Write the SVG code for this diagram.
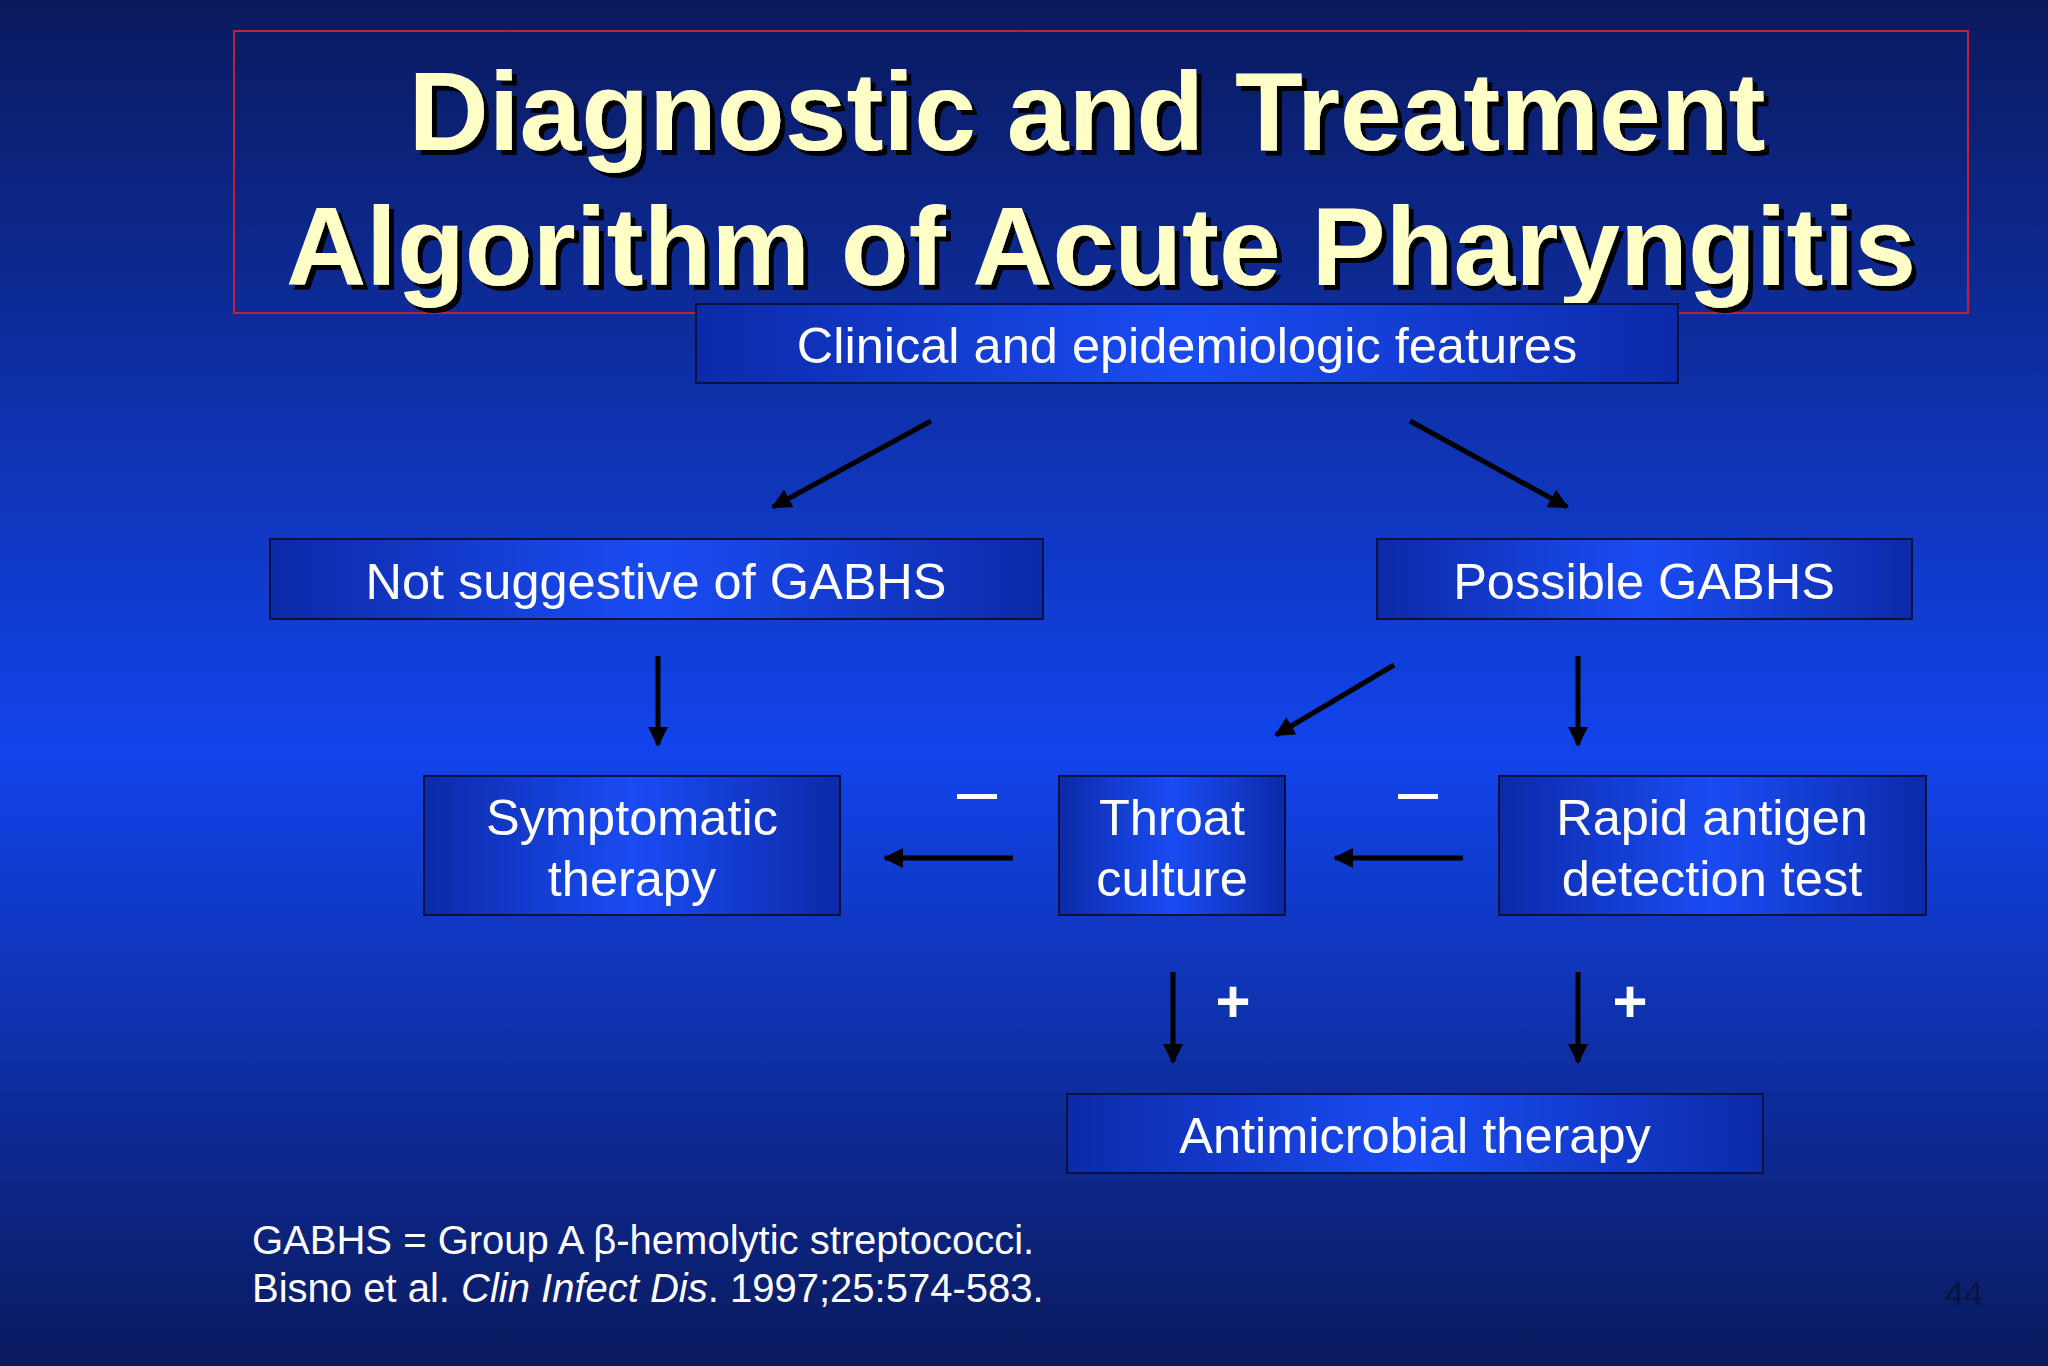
<svg xmlns="http://www.w3.org/2000/svg" width="2048" height="1366" viewBox="0 0 2048 1366">
<defs>
<linearGradient id="bg" x1="0" y1="0" x2="0" y2="1">
<stop offset="0" stop-color="#0a1a5e"/><stop offset="0.55" stop-color="#1244ec"/><stop offset="1" stop-color="#0a1a5e"/>
</linearGradient>
<linearGradient id="bx" x1="0" y1="0" x2="1" y2="0">
<stop offset="0" stop-color="#0c2aa8"/><stop offset="0.5" stop-color="#1a4cf4"/><stop offset="1" stop-color="#0c2aa8"/>
</linearGradient>
<filter id="sh" x="-5%" y="-20%" width="110%" height="140%"><feDropShadow dx="5" dy="5" stdDeviation="0" flood-color="#000"/></filter>
<marker id="ah" viewBox="0 0 10 10" refX="9" refY="5" markerWidth="4" markerHeight="4" orient="auto"><path d="M0,0L10,5L0,10z" fill="#000"/></marker>
</defs>
<style>
.b{fill:url(#bx);stroke:#0a1040;stroke-width:2}
.t{font-family:"Liberation Sans",Arial,sans-serif;fill:#fff;font-size:50.5px;text-anchor:middle}
.c{stroke:#000;stroke-width:5;fill:none;marker-end:url(#ah)}
.ti{font-family:"Liberation Sans",Arial,sans-serif;font-weight:bold;font-size:111px;fill:#ffffc8;text-anchor:middle}
.f{font-family:"Liberation Sans",Arial,sans-serif;fill:#fff;font-size:40px}
.s{font-family:"Liberation Sans",Arial,sans-serif;fill:#fff;font-size:60px;text-anchor:middle}
</style>
<rect width="2048" height="1366" fill="url(#bg)"/>
<rect x="234" y="31" width="1734" height="282" fill="none" stroke="#c0203a" stroke-width="2"/>
<g id="title" filter="url(#sh)">
<text class="ti" x="1087" y="150">Diagnostic and Treatment</text>
<text class="ti" x="1101" y="285">Algorithm of Acute Pharyngitis</text>
</g>
<g id="n1"><rect class="b" x="696" y="304" width="982" height="79"/><text class="t" x="1187" y="363">Clinical and epidemiologic features</text></g>
<g id="n2"><rect class="b" x="270" y="539" width="773" height="80"/><text class="t" x="656" y="599">Not suggestive of GABHS</text></g>
<g id="n3"><rect class="b" x="1377" y="539" width="535" height="80"/><text class="t" x="1644" y="599">Possible GABHS</text></g>
<g id="n4"><rect class="b" x="424" y="776" width="416" height="139"/><text class="t" x="632" y="835">Symptomatic</text><text class="t" x="632" y="896">therapy</text></g>
<g id="n5"><rect class="b" x="1059" y="776" width="226" height="139"/><text class="t" x="1172" y="835">Throat</text><text class="t" x="1172" y="896">culture</text></g>
<g id="n6"><rect class="b" x="1499" y="776" width="427" height="139"/><text class="t" x="1712" y="835">Rapid antigen</text><text class="t" x="1712" y="896">detection test</text></g>
<g id="n7"><rect class="b" x="1067" y="1094" width="696" height="79"/><text class="t" x="1415" y="1153">Antimicrobial therapy</text></g>
<g id="connectors">
<line class="c" x1="931" y1="421" x2="773" y2="507"/>
<line class="c" x1="1410" y1="421" x2="1567" y2="507"/>
<line class="c" x1="658" y1="656" x2="658" y2="745"/>
<line class="c" x1="1394" y1="665" x2="1276" y2="735"/>
<line class="c" x1="1578" y1="656" x2="1578" y2="745"/>
<line class="c" x1="1013" y1="858" x2="885" y2="858"/>
<line class="c" x1="1463" y1="858" x2="1335" y2="858"/>
<line class="c" x1="1173" y1="972" x2="1173" y2="1062"/>
<line class="c" x1="1578" y1="972" x2="1578" y2="1062"/>
<rect x="957" y="794" width="40" height="5" fill="#fff"/>
<rect x="1398" y="794" width="40" height="5" fill="#fff"/>
<text class="s" x="1233" y="1022" font-weight="bold">+</text>
<text class="s" x="1630" y="1022" font-weight="bold">+</text>
</g>
<text class="f" x="252" y="1254">GABHS = Group A β-hemolytic streptococci.</text>
<text class="f" x="252" y="1302">Bisno et al. <tspan font-style="italic">Clin Infect Dis</tspan>. 1997;25:574-583.</text>
<text x="1964" y="1305" font-family="Liberation Sans,Arial,sans-serif" font-size="34" fill="#0a1440" text-anchor="middle">44</text>
</svg>
